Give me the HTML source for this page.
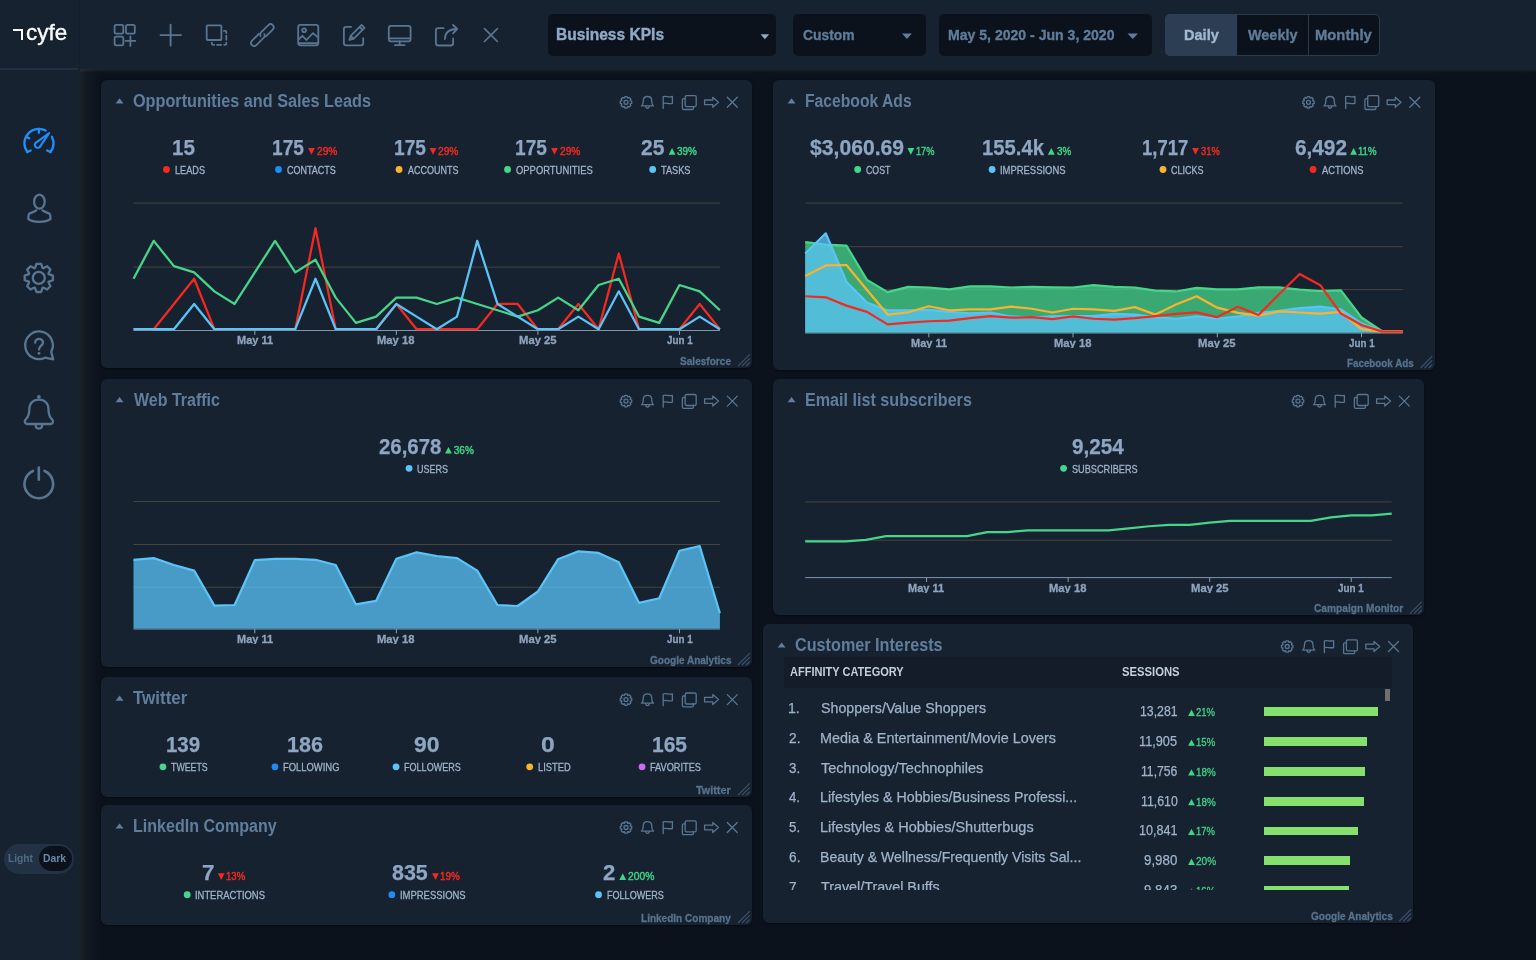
<!DOCTYPE html><html lang="en"><head><meta charset="utf-8"><title>Cyfe - Business KPIs</title><style>
html,body{margin:0;padding:0}
body{width:1536px;height:960px;overflow:hidden;background:#0b121b;position:relative;font-family:"Liberation Sans",sans-serif}
div,span,svg{position:absolute}
div{box-sizing:border-box}
.t{white-space:pre;transform-origin:0 50%;display:block}
.c{overflow:hidden;left:0;top:0;width:1536px}
svg{left:0;top:0}

</style></head><body>
<div style="left:79.00px;top:0.00px;width:22.00px;height:960.00px;background:linear-gradient(to right,rgba(255,255,255,.065),rgba(255,255,255,.035) 30%,rgba(255,255,255,.014) 60%,rgba(255,255,255,0));"></div>
<div style="left:80.00px;top:69.00px;width:1456.00px;height:4.00px;background:linear-gradient(to bottom,rgba(255,250,245,.075),rgba(255,250,245,.03) 50%,rgba(255,255,255,0));"></div>
<div style="left:80.00px;top:0.00px;width:1456.00px;height:69.30px;background:#172231;"></div>
<div style="left:0.00px;top:0.00px;width:79.00px;height:960.00px;background:#172231;"></div>
<div style="left:79.00px;top:0.00px;width:1.00px;height:69.30px;background:#151e2b;"></div>
<div style="left:0.00px;top:68.00px;width:78.00px;height:1.60px;background:#222f41;"></div>
<div style="left:12.80px;top:29.00px;width:9.90px;height:11.00px;background:transparent;border-top:2.2px solid #fff;border-right:2.2px solid #fff;box-sizing:border-box;"></div>
<div style="left:548.30px;top:14.00px;width:228.20px;height:42.00px;background:#0b121b;border-radius:5px;"></div>
<div style="left:792.60px;top:14.00px;width:133.30px;height:42.00px;background:#0b121b;border-radius:5px;"></div>
<div style="left:938.90px;top:14.00px;width:213.10px;height:42.00px;background:#0b121b;border-radius:5px;"></div>
<div style="left:1165.00px;top:13.80px;width:214.50px;height:42.50px;background:#0b121b;border-radius:5px;box-sizing:border-box;border:1px solid #2a3b50;"></div>
<div style="left:1165.00px;top:13.80px;width:72.20px;height:42.50px;background:#2c3e54;border-radius:5px 0 0 5px;"></div>
<div style="left:1308.00px;top:14.50px;width:1.00px;height:41.00px;background:#2a3b50;"></div>
<div style="left:4.40px;top:843.80px;width:70.10px;height:30.00px;background:#223144;border-radius:15px;"></div>
<div style="left:38.70px;top:845.90px;width:33.00px;height:25.40px;background:#0b121b;border-radius:12.7px;"></div>
<div style="left:101.00px;top:80.00px;width:651.00px;height:287.70px;background:#172231;border-radius:6px;box-shadow:0 1px 2px rgba(0,0,0,.4);"></div>
<div style="left:101.00px;top:378.80px;width:651.00px;height:287.80px;background:#172231;border-radius:6px;box-shadow:0 1px 2px rgba(0,0,0,.4);"></div>
<div style="left:101.00px;top:677.30px;width:651.00px;height:119.40px;background:#172231;border-radius:6px;box-shadow:0 1px 2px rgba(0,0,0,.4);"></div>
<div style="left:101.00px;top:805.20px;width:651.00px;height:119.40px;background:#172231;border-radius:6px;box-shadow:0 1px 2px rgba(0,0,0,.4);"></div>
<div style="left:773.00px;top:80.00px;width:661.50px;height:289.60px;background:#172231;border-radius:6px;box-shadow:0 1px 2px rgba(0,0,0,.4);"></div>
<div style="left:773.00px;top:378.80px;width:651.00px;height:236.40px;background:#172231;border-radius:6px;box-shadow:0 1px 2px rgba(0,0,0,.4);"></div>
<div style="left:763.10px;top:624.20px;width:650.10px;height:298.70px;background:#172231;border-radius:6px;box-shadow:0 1px 2px rgba(0,0,0,.4);"></div>
<div style="left:784.40px;top:657.40px;width:607.50px;height:30.60px;background:#141c2a;"></div>
<div style="left:1385.20px;top:688.80px;width:5.00px;height:12.20px;background:#6f6f6f;"></div>
<div style="left:1263.70px;top:707.40px;width:114.60px;height:8.80px;background:#86e06d;"></div>
<div style="left:1263.70px;top:737.18px;width:102.90px;height:8.80px;background:#86e06d;"></div>
<div style="left:1263.70px;top:766.96px;width:101.60px;height:8.80px;background:#86e06d;"></div>
<div style="left:1263.70px;top:796.74px;width:100.40px;height:8.80px;background:#86e06d;"></div>
<div style="left:1263.70px;top:826.52px;width:94.20px;height:8.80px;background:#86e06d;"></div>
<div style="left:1263.70px;top:856.30px;width:86.70px;height:8.80px;background:#86e06d;"></div>
<div style="left:1263.70px;top:886.08px;width:85.60px;height:3.52px;background:#86e06d;"></div>
<svg width="1536" height="960" viewBox="0 0 1536 960">
<polygon points="760.60,34.30 769.20,34.30 764.90,39.30" fill="#8fa9c6"/>
<polygon points="902.00,33.50 911.90,33.50 906.95,38.90" fill="#5f7d9b"/>
<polygon points="1127.50,33.50 1138.00,33.50 1132.75,38.90" fill="#5f7d9b"/>
<polygon points="115.60,103.40 123.50,103.40 119.55,98.30" fill="#607e9b"/>
<line x1="738.00" y1="366.10" x2="749.80" y2="354.30" stroke="#3b5068" stroke-width="1.2"/>
<line x1="742.00" y1="366.10" x2="749.80" y2="358.30" stroke="#3b5068" stroke-width="1.2"/>
<line x1="746.20" y1="366.10" x2="749.80" y2="362.50" stroke="#3b5068" stroke-width="1.2"/>
<path d="M624.36,98.11 L624.87,96.61 L627.13,96.61 L627.64,98.11 L627.80,98.18 L629.22,97.48 L630.82,99.08 L630.12,100.50 L630.19,100.66 L631.69,101.17 L631.69,103.43 L630.19,103.94 L630.12,104.10 L630.82,105.52 L629.22,107.12 L627.80,106.42 L627.64,106.49 L627.13,107.99 L624.87,107.99 L624.36,106.49 L624.20,106.42 L622.78,107.12 L621.18,105.52 L621.88,104.10 L621.81,103.94 L620.31,103.43 L620.31,101.17 L621.81,100.66 L621.88,100.50 L621.18,99.08 L622.78,97.48 L624.20,98.18Z" stroke="#587691" stroke-width="1.3" fill="none" stroke-linejoin="round" stroke-linecap="round"/>
<circle cx="626.00" cy="102.30" r="2.0" stroke="#587691" stroke-width="1.3" fill="none" stroke-linejoin="round" stroke-linecap="round"/>
<path d="M641.50,105.90 C643.90,103.90 643.10,101.30 643.30,100.10 C643.50,97.70 645.50,96.50 647.50,96.50 C649.50,96.50 651.50,97.70 651.70,100.10 C651.90,101.30 651.10,103.90 653.50,105.90 Z" stroke="#587691" stroke-width="1.3" fill="none" stroke-linejoin="round" stroke-linecap="round"/>
<path d="M645.70,106.30 C646.00,108.90 649.00,108.90 649.30,106.30" stroke="#587691" stroke-width="1.3" fill="none" stroke-linejoin="round" stroke-linecap="round"/>
<path d="M663.20,108.40 L663.20,96.70 C665.80,95.70 668.80,97.50 672.40,96.50 L672.40,103.30 C668.80,104.30 665.80,102.30 663.20,103.50" stroke="#587691" stroke-width="1.3" fill="none" stroke-linejoin="round" stroke-linecap="round"/>
<rect x="685.20" y="95.70" width="11.0" height="11.0" rx="1.4" stroke="#587691" stroke-width="1.3" fill="none" stroke-linejoin="round" stroke-linecap="round"/>
<path d="M685.20,98.70 L683.60,98.70 Q682.40,98.70 682.40,99.90 L682.40,108.30 Q682.40,109.50 683.60,109.50 L692.20,109.50 Q693.40,109.50 693.40,108.30 L693.40,106.70" stroke="#587691" stroke-width="1.3" fill="none" stroke-linejoin="round" stroke-linecap="round"/>
<path d="M704.60,100.00 L712.80,100.00 L712.80,97.30 L718.50,102.30 L712.80,107.30 L712.80,104.60 L704.60,104.60 Z" stroke="#587691" stroke-width="1.3" fill="none" stroke-linejoin="round" stroke-linecap="round"/>
<path d="M727.30,97.30 L737.30,107.30 M737.30,97.30 L727.30,107.30" stroke="#587691" stroke-width="1.3" fill="none" stroke-linejoin="round" stroke-linecap="round"/>
<polygon points="115.60,402.20 123.50,402.20 119.55,397.10" fill="#607e9b"/>
<line x1="738.00" y1="665.00" x2="749.80" y2="653.20" stroke="#3b5068" stroke-width="1.2"/>
<line x1="742.00" y1="665.00" x2="749.80" y2="657.20" stroke="#3b5068" stroke-width="1.2"/>
<line x1="746.20" y1="665.00" x2="749.80" y2="661.40" stroke="#3b5068" stroke-width="1.2"/>
<path d="M624.36,396.91 L624.87,395.41 L627.13,395.41 L627.64,396.91 L627.80,396.98 L629.22,396.28 L630.82,397.88 L630.12,399.30 L630.19,399.46 L631.69,399.97 L631.69,402.23 L630.19,402.74 L630.12,402.90 L630.82,404.32 L629.22,405.92 L627.80,405.22 L627.64,405.29 L627.13,406.79 L624.87,406.79 L624.36,405.29 L624.20,405.22 L622.78,405.92 L621.18,404.32 L621.88,402.90 L621.81,402.74 L620.31,402.23 L620.31,399.97 L621.81,399.46 L621.88,399.30 L621.18,397.88 L622.78,396.28 L624.20,396.98Z" stroke="#587691" stroke-width="1.3" fill="none" stroke-linejoin="round" stroke-linecap="round"/>
<circle cx="626.00" cy="401.10" r="2.0" stroke="#587691" stroke-width="1.3" fill="none" stroke-linejoin="round" stroke-linecap="round"/>
<path d="M641.50,404.70 C643.90,402.70 643.10,400.10 643.30,398.90 C643.50,396.50 645.50,395.30 647.50,395.30 C649.50,395.30 651.50,396.50 651.70,398.90 C651.90,400.10 651.10,402.70 653.50,404.70 Z" stroke="#587691" stroke-width="1.3" fill="none" stroke-linejoin="round" stroke-linecap="round"/>
<path d="M645.70,405.10 C646.00,407.70 649.00,407.70 649.30,405.10" stroke="#587691" stroke-width="1.3" fill="none" stroke-linejoin="round" stroke-linecap="round"/>
<path d="M663.20,407.20 L663.20,395.50 C665.80,394.50 668.80,396.30 672.40,395.30 L672.40,402.10 C668.80,403.10 665.80,401.10 663.20,402.30" stroke="#587691" stroke-width="1.3" fill="none" stroke-linejoin="round" stroke-linecap="round"/>
<rect x="685.20" y="394.50" width="11.0" height="11.0" rx="1.4" stroke="#587691" stroke-width="1.3" fill="none" stroke-linejoin="round" stroke-linecap="round"/>
<path d="M685.20,397.50 L683.60,397.50 Q682.40,397.50 682.40,398.70 L682.40,407.10 Q682.40,408.30 683.60,408.30 L692.20,408.30 Q693.40,408.30 693.40,407.10 L693.40,405.50" stroke="#587691" stroke-width="1.3" fill="none" stroke-linejoin="round" stroke-linecap="round"/>
<path d="M704.60,398.80 L712.80,398.80 L712.80,396.10 L718.50,401.10 L712.80,406.10 L712.80,403.40 L704.60,403.40 Z" stroke="#587691" stroke-width="1.3" fill="none" stroke-linejoin="round" stroke-linecap="round"/>
<path d="M727.30,396.10 L737.30,406.10 M737.30,396.10 L727.30,406.10" stroke="#587691" stroke-width="1.3" fill="none" stroke-linejoin="round" stroke-linecap="round"/>
<polygon points="115.60,700.70 123.50,700.70 119.55,695.60" fill="#607e9b"/>
<line x1="738.00" y1="795.10" x2="749.80" y2="783.30" stroke="#3b5068" stroke-width="1.2"/>
<line x1="742.00" y1="795.10" x2="749.80" y2="787.30" stroke="#3b5068" stroke-width="1.2"/>
<line x1="746.20" y1="795.10" x2="749.80" y2="791.50" stroke="#3b5068" stroke-width="1.2"/>
<path d="M624.36,695.41 L624.87,693.91 L627.13,693.91 L627.64,695.41 L627.80,695.48 L629.22,694.78 L630.82,696.38 L630.12,697.80 L630.19,697.96 L631.69,698.47 L631.69,700.73 L630.19,701.24 L630.12,701.40 L630.82,702.82 L629.22,704.42 L627.80,703.72 L627.64,703.79 L627.13,705.29 L624.87,705.29 L624.36,703.79 L624.20,703.72 L622.78,704.42 L621.18,702.82 L621.88,701.40 L621.81,701.24 L620.31,700.73 L620.31,698.47 L621.81,697.96 L621.88,697.80 L621.18,696.38 L622.78,694.78 L624.20,695.48Z" stroke="#587691" stroke-width="1.3" fill="none" stroke-linejoin="round" stroke-linecap="round"/>
<circle cx="626.00" cy="699.60" r="2.0" stroke="#587691" stroke-width="1.3" fill="none" stroke-linejoin="round" stroke-linecap="round"/>
<path d="M641.50,703.20 C643.90,701.20 643.10,698.60 643.30,697.40 C643.50,695.00 645.50,693.80 647.50,693.80 C649.50,693.80 651.50,695.00 651.70,697.40 C651.90,698.60 651.10,701.20 653.50,703.20 Z" stroke="#587691" stroke-width="1.3" fill="none" stroke-linejoin="round" stroke-linecap="round"/>
<path d="M645.70,703.60 C646.00,706.20 649.00,706.20 649.30,703.60" stroke="#587691" stroke-width="1.3" fill="none" stroke-linejoin="round" stroke-linecap="round"/>
<path d="M663.20,705.70 L663.20,694.00 C665.80,693.00 668.80,694.80 672.40,693.80 L672.40,700.60 C668.80,701.60 665.80,699.60 663.20,700.80" stroke="#587691" stroke-width="1.3" fill="none" stroke-linejoin="round" stroke-linecap="round"/>
<rect x="685.20" y="693.00" width="11.0" height="11.0" rx="1.4" stroke="#587691" stroke-width="1.3" fill="none" stroke-linejoin="round" stroke-linecap="round"/>
<path d="M685.20,696.00 L683.60,696.00 Q682.40,696.00 682.40,697.20 L682.40,705.60 Q682.40,706.80 683.60,706.80 L692.20,706.80 Q693.40,706.80 693.40,705.60 L693.40,704.00" stroke="#587691" stroke-width="1.3" fill="none" stroke-linejoin="round" stroke-linecap="round"/>
<path d="M704.60,697.30 L712.80,697.30 L712.80,694.60 L718.50,699.60 L712.80,704.60 L712.80,701.90 L704.60,701.90 Z" stroke="#587691" stroke-width="1.3" fill="none" stroke-linejoin="round" stroke-linecap="round"/>
<path d="M727.30,694.60 L737.30,704.60 M737.30,694.60 L727.30,704.60" stroke="#587691" stroke-width="1.3" fill="none" stroke-linejoin="round" stroke-linecap="round"/>
<polygon points="115.60,828.60 123.50,828.60 119.55,823.50" fill="#607e9b"/>
<line x1="738.00" y1="923.00" x2="749.80" y2="911.20" stroke="#3b5068" stroke-width="1.2"/>
<line x1="742.00" y1="923.00" x2="749.80" y2="915.20" stroke="#3b5068" stroke-width="1.2"/>
<line x1="746.20" y1="923.00" x2="749.80" y2="919.40" stroke="#3b5068" stroke-width="1.2"/>
<path d="M624.36,823.31 L624.87,821.81 L627.13,821.81 L627.64,823.31 L627.80,823.38 L629.22,822.68 L630.82,824.28 L630.12,825.70 L630.19,825.86 L631.69,826.37 L631.69,828.63 L630.19,829.14 L630.12,829.30 L630.82,830.72 L629.22,832.32 L627.80,831.62 L627.64,831.69 L627.13,833.19 L624.87,833.19 L624.36,831.69 L624.20,831.62 L622.78,832.32 L621.18,830.72 L621.88,829.30 L621.81,829.14 L620.31,828.63 L620.31,826.37 L621.81,825.86 L621.88,825.70 L621.18,824.28 L622.78,822.68 L624.20,823.38Z" stroke="#587691" stroke-width="1.3" fill="none" stroke-linejoin="round" stroke-linecap="round"/>
<circle cx="626.00" cy="827.50" r="2.0" stroke="#587691" stroke-width="1.3" fill="none" stroke-linejoin="round" stroke-linecap="round"/>
<path d="M641.50,831.10 C643.90,829.10 643.10,826.50 643.30,825.30 C643.50,822.90 645.50,821.70 647.50,821.70 C649.50,821.70 651.50,822.90 651.70,825.30 C651.90,826.50 651.10,829.10 653.50,831.10 Z" stroke="#587691" stroke-width="1.3" fill="none" stroke-linejoin="round" stroke-linecap="round"/>
<path d="M645.70,831.50 C646.00,834.10 649.00,834.10 649.30,831.50" stroke="#587691" stroke-width="1.3" fill="none" stroke-linejoin="round" stroke-linecap="round"/>
<path d="M663.20,833.60 L663.20,821.90 C665.80,820.90 668.80,822.70 672.40,821.70 L672.40,828.50 C668.80,829.50 665.80,827.50 663.20,828.70" stroke="#587691" stroke-width="1.3" fill="none" stroke-linejoin="round" stroke-linecap="round"/>
<rect x="685.20" y="820.90" width="11.0" height="11.0" rx="1.4" stroke="#587691" stroke-width="1.3" fill="none" stroke-linejoin="round" stroke-linecap="round"/>
<path d="M685.20,823.90 L683.60,823.90 Q682.40,823.90 682.40,825.10 L682.40,833.50 Q682.40,834.70 683.60,834.70 L692.20,834.70 Q693.40,834.70 693.40,833.50 L693.40,831.90" stroke="#587691" stroke-width="1.3" fill="none" stroke-linejoin="round" stroke-linecap="round"/>
<path d="M704.60,825.20 L712.80,825.20 L712.80,822.50 L718.50,827.50 L712.80,832.50 L712.80,829.80 L704.60,829.80 Z" stroke="#587691" stroke-width="1.3" fill="none" stroke-linejoin="round" stroke-linecap="round"/>
<path d="M727.30,822.50 L737.30,832.50 M737.30,822.50 L727.30,832.50" stroke="#587691" stroke-width="1.3" fill="none" stroke-linejoin="round" stroke-linecap="round"/>
<polygon points="787.60,103.40 795.50,103.40 791.55,98.30" fill="#607e9b"/>
<line x1="1420.50" y1="368.00" x2="1432.30" y2="356.20" stroke="#3b5068" stroke-width="1.2"/>
<line x1="1424.50" y1="368.00" x2="1432.30" y2="360.20" stroke="#3b5068" stroke-width="1.2"/>
<line x1="1428.70" y1="368.00" x2="1432.30" y2="364.40" stroke="#3b5068" stroke-width="1.2"/>
<path d="M1306.86,98.11 L1307.37,96.61 L1309.63,96.61 L1310.14,98.11 L1310.30,98.18 L1311.72,97.48 L1313.32,99.08 L1312.62,100.50 L1312.69,100.66 L1314.19,101.17 L1314.19,103.43 L1312.69,103.94 L1312.62,104.10 L1313.32,105.52 L1311.72,107.12 L1310.30,106.42 L1310.14,106.49 L1309.63,107.99 L1307.37,107.99 L1306.86,106.49 L1306.70,106.42 L1305.28,107.12 L1303.68,105.52 L1304.38,104.10 L1304.31,103.94 L1302.81,103.43 L1302.81,101.17 L1304.31,100.66 L1304.38,100.50 L1303.68,99.08 L1305.28,97.48 L1306.70,98.18Z" stroke="#587691" stroke-width="1.3" fill="none" stroke-linejoin="round" stroke-linecap="round"/>
<circle cx="1308.50" cy="102.30" r="2.0" stroke="#587691" stroke-width="1.3" fill="none" stroke-linejoin="round" stroke-linecap="round"/>
<path d="M1324.00,105.90 C1326.40,103.90 1325.60,101.30 1325.80,100.10 C1326.00,97.70 1328.00,96.50 1330.00,96.50 C1332.00,96.50 1334.00,97.70 1334.20,100.10 C1334.40,101.30 1333.60,103.90 1336.00,105.90 Z" stroke="#587691" stroke-width="1.3" fill="none" stroke-linejoin="round" stroke-linecap="round"/>
<path d="M1328.20,106.30 C1328.50,108.90 1331.50,108.90 1331.80,106.30" stroke="#587691" stroke-width="1.3" fill="none" stroke-linejoin="round" stroke-linecap="round"/>
<path d="M1345.70,108.40 L1345.70,96.70 C1348.30,95.70 1351.30,97.50 1354.90,96.50 L1354.90,103.30 C1351.30,104.30 1348.30,102.30 1345.70,103.50" stroke="#587691" stroke-width="1.3" fill="none" stroke-linejoin="round" stroke-linecap="round"/>
<rect x="1367.70" y="95.70" width="11.0" height="11.0" rx="1.4" stroke="#587691" stroke-width="1.3" fill="none" stroke-linejoin="round" stroke-linecap="round"/>
<path d="M1367.70,98.70 L1366.10,98.70 Q1364.90,98.70 1364.90,99.90 L1364.90,108.30 Q1364.90,109.50 1366.10,109.50 L1374.70,109.50 Q1375.90,109.50 1375.90,108.30 L1375.90,106.70" stroke="#587691" stroke-width="1.3" fill="none" stroke-linejoin="round" stroke-linecap="round"/>
<path d="M1387.10,100.00 L1395.30,100.00 L1395.30,97.30 L1401.00,102.30 L1395.30,107.30 L1395.30,104.60 L1387.10,104.60 Z" stroke="#587691" stroke-width="1.3" fill="none" stroke-linejoin="round" stroke-linecap="round"/>
<path d="M1409.80,97.30 L1419.80,107.30 M1419.80,97.30 L1409.80,107.30" stroke="#587691" stroke-width="1.3" fill="none" stroke-linejoin="round" stroke-linecap="round"/>
<polygon points="787.60,402.20 795.50,402.20 791.55,397.10" fill="#607e9b"/>
<line x1="1410.00" y1="613.60" x2="1421.80" y2="601.80" stroke="#3b5068" stroke-width="1.2"/>
<line x1="1414.00" y1="613.60" x2="1421.80" y2="605.80" stroke="#3b5068" stroke-width="1.2"/>
<line x1="1418.20" y1="613.60" x2="1421.80" y2="610.00" stroke="#3b5068" stroke-width="1.2"/>
<path d="M1296.36,396.91 L1296.87,395.41 L1299.13,395.41 L1299.64,396.91 L1299.80,396.98 L1301.22,396.28 L1302.82,397.88 L1302.12,399.30 L1302.19,399.46 L1303.69,399.97 L1303.69,402.23 L1302.19,402.74 L1302.12,402.90 L1302.82,404.32 L1301.22,405.92 L1299.80,405.22 L1299.64,405.29 L1299.13,406.79 L1296.87,406.79 L1296.36,405.29 L1296.20,405.22 L1294.78,405.92 L1293.18,404.32 L1293.88,402.90 L1293.81,402.74 L1292.31,402.23 L1292.31,399.97 L1293.81,399.46 L1293.88,399.30 L1293.18,397.88 L1294.78,396.28 L1296.20,396.98Z" stroke="#587691" stroke-width="1.3" fill="none" stroke-linejoin="round" stroke-linecap="round"/>
<circle cx="1298.00" cy="401.10" r="2.0" stroke="#587691" stroke-width="1.3" fill="none" stroke-linejoin="round" stroke-linecap="round"/>
<path d="M1313.50,404.70 C1315.90,402.70 1315.10,400.10 1315.30,398.90 C1315.50,396.50 1317.50,395.30 1319.50,395.30 C1321.50,395.30 1323.50,396.50 1323.70,398.90 C1323.90,400.10 1323.10,402.70 1325.50,404.70 Z" stroke="#587691" stroke-width="1.3" fill="none" stroke-linejoin="round" stroke-linecap="round"/>
<path d="M1317.70,405.10 C1318.00,407.70 1321.00,407.70 1321.30,405.10" stroke="#587691" stroke-width="1.3" fill="none" stroke-linejoin="round" stroke-linecap="round"/>
<path d="M1335.20,407.20 L1335.20,395.50 C1337.80,394.50 1340.80,396.30 1344.40,395.30 L1344.40,402.10 C1340.80,403.10 1337.80,401.10 1335.20,402.30" stroke="#587691" stroke-width="1.3" fill="none" stroke-linejoin="round" stroke-linecap="round"/>
<rect x="1357.20" y="394.50" width="11.0" height="11.0" rx="1.4" stroke="#587691" stroke-width="1.3" fill="none" stroke-linejoin="round" stroke-linecap="round"/>
<path d="M1357.20,397.50 L1355.60,397.50 Q1354.40,397.50 1354.40,398.70 L1354.40,407.10 Q1354.40,408.30 1355.60,408.30 L1364.20,408.30 Q1365.40,408.30 1365.40,407.10 L1365.40,405.50" stroke="#587691" stroke-width="1.3" fill="none" stroke-linejoin="round" stroke-linecap="round"/>
<path d="M1376.60,398.80 L1384.80,398.80 L1384.80,396.10 L1390.50,401.10 L1384.80,406.10 L1384.80,403.40 L1376.60,403.40 Z" stroke="#587691" stroke-width="1.3" fill="none" stroke-linejoin="round" stroke-linecap="round"/>
<path d="M1399.30,396.10 L1409.30,406.10 M1409.30,396.10 L1399.30,406.10" stroke="#587691" stroke-width="1.3" fill="none" stroke-linejoin="round" stroke-linecap="round"/>
<polygon points="777.70,647.60 785.60,647.60 781.65,642.50" fill="#607e9b"/>
<line x1="1399.20" y1="921.30" x2="1411.00" y2="909.50" stroke="#3b5068" stroke-width="1.2"/>
<line x1="1403.20" y1="921.30" x2="1411.00" y2="913.50" stroke="#3b5068" stroke-width="1.2"/>
<line x1="1407.40" y1="921.30" x2="1411.00" y2="917.70" stroke="#3b5068" stroke-width="1.2"/>
<path d="M1285.56,642.31 L1286.07,640.81 L1288.33,640.81 L1288.84,642.31 L1289.00,642.38 L1290.42,641.68 L1292.02,643.28 L1291.32,644.70 L1291.39,644.86 L1292.89,645.37 L1292.89,647.63 L1291.39,648.14 L1291.32,648.30 L1292.02,649.72 L1290.42,651.32 L1289.00,650.62 L1288.84,650.69 L1288.33,652.19 L1286.07,652.19 L1285.56,650.69 L1285.40,650.62 L1283.98,651.32 L1282.38,649.72 L1283.08,648.30 L1283.01,648.14 L1281.51,647.63 L1281.51,645.37 L1283.01,644.86 L1283.08,644.70 L1282.38,643.28 L1283.98,641.68 L1285.40,642.38Z" stroke="#587691" stroke-width="1.3" fill="none" stroke-linejoin="round" stroke-linecap="round"/>
<circle cx="1287.20" cy="646.50" r="2.0" stroke="#587691" stroke-width="1.3" fill="none" stroke-linejoin="round" stroke-linecap="round"/>
<path d="M1302.70,650.10 C1305.10,648.10 1304.30,645.50 1304.50,644.30 C1304.70,641.90 1306.70,640.70 1308.70,640.70 C1310.70,640.70 1312.70,641.90 1312.90,644.30 C1313.10,645.50 1312.30,648.10 1314.70,650.10 Z" stroke="#587691" stroke-width="1.3" fill="none" stroke-linejoin="round" stroke-linecap="round"/>
<path d="M1306.90,650.50 C1307.20,653.10 1310.20,653.10 1310.50,650.50" stroke="#587691" stroke-width="1.3" fill="none" stroke-linejoin="round" stroke-linecap="round"/>
<path d="M1324.40,652.60 L1324.40,640.90 C1327.00,639.90 1330.00,641.70 1333.60,640.70 L1333.60,647.50 C1330.00,648.50 1327.00,646.50 1324.40,647.70" stroke="#587691" stroke-width="1.3" fill="none" stroke-linejoin="round" stroke-linecap="round"/>
<rect x="1346.40" y="639.90" width="11.0" height="11.0" rx="1.4" stroke="#587691" stroke-width="1.3" fill="none" stroke-linejoin="round" stroke-linecap="round"/>
<path d="M1346.40,642.90 L1344.80,642.90 Q1343.60,642.90 1343.60,644.10 L1343.60,652.50 Q1343.60,653.70 1344.80,653.70 L1353.40,653.70 Q1354.60,653.70 1354.60,652.50 L1354.60,650.90" stroke="#587691" stroke-width="1.3" fill="none" stroke-linejoin="round" stroke-linecap="round"/>
<path d="M1365.80,644.20 L1374.00,644.20 L1374.00,641.50 L1379.70,646.50 L1374.00,651.50 L1374.00,648.80 L1365.80,648.80 Z" stroke="#587691" stroke-width="1.3" fill="none" stroke-linejoin="round" stroke-linecap="round"/>
<path d="M1388.50,641.50 L1398.50,651.50 M1398.50,641.50 L1388.50,651.50" stroke="#587691" stroke-width="1.3" fill="none" stroke-linejoin="round" stroke-linecap="round"/>
<circle cx="166.47" cy="169.50" r="3.40" fill="#f5291f"/>
<polygon points="308.10,148.10 314.90,148.10 311.50,154.70" fill="#f5291f"/>
<circle cx="278.50" cy="169.50" r="3.40" fill="#1e8cf5"/>
<polygon points="429.60,148.10 436.40,148.10 433.00,154.70" fill="#f5291f"/>
<circle cx="399.05" cy="169.50" r="3.40" fill="#f9b32c"/>
<polygon points="551.10,148.10 557.90,148.10 554.50,154.70" fill="#f5291f"/>
<circle cx="507.55" cy="169.50" r="3.40" fill="#46d68a"/>
<polygon points="668.67,154.70 675.47,154.70 672.07,148.10" fill="#3fd585"/>
<circle cx="652.67" cy="169.50" r="3.40" fill="#5ac4f8"/>
<polygon points="445.05,453.50 451.85,453.50 448.45,446.90" fill="#3fd585"/>
<circle cx="409.05" cy="468.30" r="3.40" fill="#5ac4f8"/>
<circle cx="162.95" cy="766.80" r="3.40" fill="#46d68a"/>
<circle cx="274.95" cy="766.80" r="3.40" fill="#1e8cf5"/>
<circle cx="396.05" cy="766.80" r="3.40" fill="#5ac4f8"/>
<circle cx="529.70" cy="766.80" r="3.40" fill="#f9b32c"/>
<circle cx="642.05" cy="766.80" r="3.40" fill="#cf6bf0"/>
<polygon points="217.80,873.30 224.60,873.30 221.20,879.90" fill="#f5291f"/>
<circle cx="187.20" cy="894.70" r="3.40" fill="#46d68a"/>
<polygon points="432.10,873.30 438.90,873.30 435.50,879.90" fill="#f5291f"/>
<circle cx="391.85" cy="894.70" r="3.40" fill="#1e8cf5"/>
<polygon points="619.35,879.90 626.15,879.90 622.75,873.30" fill="#3fd585"/>
<circle cx="598.55" cy="894.70" r="3.40" fill="#5ac4f8"/>
<polygon points="907.45,148.10 914.25,148.10 910.85,154.70" fill="#3fd585"/>
<circle cx="857.67" cy="169.50" r="3.40" fill="#46d68a"/>
<polygon points="1047.90,154.70 1054.70,154.70 1051.30,148.10" fill="#3fd585"/>
<circle cx="992.10" cy="169.50" r="3.40" fill="#5ac4f8"/>
<polygon points="1192.12,148.10 1198.92,148.10 1195.53,154.70" fill="#f5291f"/>
<circle cx="1162.98" cy="169.50" r="3.40" fill="#f9b32c"/>
<polygon points="1350.20,154.70 1357.00,154.70 1353.60,148.10" fill="#3fd585"/>
<circle cx="1313.05" cy="169.50" r="3.40" fill="#f5291f"/>
<circle cx="1063.60" cy="468.30" r="3.40" fill="#46d68a"/>
<line x1="133.5" y1="203.1" x2="719.9" y2="203.1" stroke="#47433f" stroke-width="1"/>
<line x1="133.5" y1="267.1" x2="719.9" y2="267.1" stroke="#47433f" stroke-width="1"/>
<line x1="133.50" y1="330.50" x2="719.90" y2="330.50" stroke="#8097b0" stroke-width="1"/>
<line x1="254.82" y1="330.50" x2="254.82" y2="334.80" stroke="#8ea3bb" stroke-width="1"/>
<line x1="396.37" y1="330.50" x2="396.37" y2="334.80" stroke="#8ea3bb" stroke-width="1"/>
<line x1="537.91" y1="330.50" x2="537.91" y2="334.80" stroke="#8ea3bb" stroke-width="1"/>
<line x1="679.46" y1="330.50" x2="679.46" y2="334.80" stroke="#8ea3bb" stroke-width="1"/>
<polyline points="133.50,329.20 153.72,329.20 173.94,303.96 194.16,278.72 214.38,329.20 234.60,329.20 254.82,329.20 275.04,329.20 295.27,329.20 315.49,228.24 335.71,329.20 355.93,329.20 376.15,329.20 396.37,303.96 416.59,329.20 436.81,329.20 457.03,329.20 477.25,329.20 497.47,303.96 517.69,303.96 537.91,329.20 558.13,329.20 578.36,303.96 598.58,329.20 618.80,253.48 639.02,329.20 659.24,329.20 679.46,329.20 699.68,303.96 719.90,329.20" fill="none" stroke="#f5291f" stroke-width="2.25" stroke-linejoin="round" stroke-linecap="butt"/>
<polyline points="133.50,278.72 153.72,240.86 173.94,266.10 194.16,272.41 214.38,291.34 234.60,303.96 254.82,272.41 275.04,240.86 295.27,272.41 315.49,259.79 335.71,297.65 355.93,322.89 376.15,316.58 396.37,297.65 416.59,297.65 436.81,303.96 457.03,297.65 477.25,303.96 497.47,310.27 517.69,316.58 537.91,310.27 558.13,297.65 578.36,310.27 598.58,285.03 618.80,278.72 639.02,316.58 659.24,322.89 679.46,285.03 699.68,291.34 719.90,310.27" fill="none" stroke="#46d68a" stroke-width="2.25" stroke-linejoin="round" stroke-linecap="butt"/>
<polyline points="133.50,329.20 153.72,329.20 173.94,329.20 194.16,303.96 214.38,329.20 234.60,329.20 254.82,329.20 275.04,329.20 295.27,329.20 315.49,278.72 335.71,329.20 355.93,329.20 376.15,329.20 396.37,303.96 416.59,316.58 436.81,329.20 457.03,316.58 477.25,240.86 497.47,303.96 517.69,316.58 537.91,329.20 558.13,329.20 578.36,316.58 598.58,329.20 618.80,291.34 639.02,329.20 659.24,329.20 679.46,329.20 699.68,316.58 719.90,329.20" fill="none" stroke="#5ac4f8" stroke-width="2.25" stroke-linejoin="round" stroke-linecap="butt"/>
<line x1="133.5" y1="501.5" x2="719.9" y2="501.5" stroke="#47433f" stroke-width="1"/>
<line x1="133.5" y1="544.5" x2="719.9" y2="544.5" stroke="#47433f" stroke-width="1"/>
<line x1="133.5" y1="587.3" x2="719.9" y2="587.3" stroke="#47433f" stroke-width="1"/>
<line x1="133.50" y1="629.00" x2="719.90" y2="629.00" stroke="#8097b0" stroke-width="1"/>
<line x1="254.82" y1="629.00" x2="254.82" y2="633.30" stroke="#8ea3bb" stroke-width="1"/>
<line x1="396.37" y1="629.00" x2="396.37" y2="633.30" stroke="#8ea3bb" stroke-width="1"/>
<line x1="537.91" y1="629.00" x2="537.91" y2="633.30" stroke="#8ea3bb" stroke-width="1"/>
<line x1="679.46" y1="629.00" x2="679.46" y2="633.30" stroke="#8ea3bb" stroke-width="1"/>
<polygon points="133.50,628.50 133.50,559.80 153.72,558.10 173.94,565.00 194.16,570.60 214.38,605.60 234.60,605.00 254.82,560.20 275.04,558.80 295.27,558.80 315.49,559.80 335.71,565.00 355.93,604.40 376.15,600.80 396.37,558.80 416.59,552.30 436.81,556.00 457.03,558.10 477.25,570.60 497.47,605.00 517.69,606.00 537.91,591.50 558.13,559.20 578.36,551.30 598.58,552.90 618.80,562.30 639.02,602.90 659.24,598.30 679.46,550.80 699.68,546.00 719.90,613.20 719.90,628.50" fill="#5ac4f8" fill-opacity="0.75"/>
<polyline points="133.50,559.80 153.72,558.10 173.94,565.00 194.16,570.60 214.38,605.60 234.60,605.00 254.82,560.20 275.04,558.80 295.27,558.80 315.49,559.80 335.71,565.00 355.93,604.40 376.15,600.80 396.37,558.80 416.59,552.30 436.81,556.00 457.03,558.10 477.25,570.60 497.47,605.00 517.69,606.00 537.91,591.50 558.13,559.20 578.36,551.30 598.58,552.90 618.80,562.30 639.02,602.90 659.24,598.30 679.46,550.80 699.68,546.00 719.90,613.20" fill="none" stroke="#5ac4f8" stroke-width="2.2" stroke-linejoin="round"/>
<line x1="805.2" y1="203.1" x2="1402.7" y2="203.1" stroke="#47433f" stroke-width="1"/>
<line x1="805.2" y1="246.7" x2="1402.7" y2="246.7" stroke="#47433f" stroke-width="1"/>
<line x1="805.2" y1="289.6" x2="1402.7" y2="289.6" stroke="#47433f" stroke-width="1"/>
<line x1="805.20" y1="333.00" x2="1402.70" y2="333.00" stroke="#8097b0" stroke-width="1"/>
<line x1="928.82" y1="333.00" x2="928.82" y2="337.30" stroke="#8ea3bb" stroke-width="1"/>
<line x1="1073.04" y1="333.00" x2="1073.04" y2="337.30" stroke="#8ea3bb" stroke-width="1"/>
<line x1="1217.27" y1="333.00" x2="1217.27" y2="337.30" stroke="#8ea3bb" stroke-width="1"/>
<line x1="1361.49" y1="333.00" x2="1361.49" y2="337.30" stroke="#8ea3bb" stroke-width="1"/>
<polygon points="805.20,332.50 805.20,242.08 825.80,244.58 846.41,245.62 867.01,280.00 887.61,292.08 908.22,286.88 928.82,287.50 949.42,289.38 970.03,286.46 990.63,286.46 1011.23,287.50 1031.84,286.88 1052.44,287.29 1073.04,287.50 1093.65,285.21 1114.25,286.88 1134.86,287.50 1155.46,290.62 1176.06,291.46 1196.67,287.92 1217.27,289.38 1237.87,289.38 1258.48,287.29 1279.08,287.29 1299.68,289.58 1320.29,291.04 1340.89,290.42 1361.49,317.50 1382.10,331.25 1402.70,331.67 1402.70,332.50" fill="#46d68a" fill-opacity="0.75"/>
<polyline points="805.20,242.08 825.80,244.58 846.41,245.62 867.01,280.00 887.61,292.08 908.22,286.88 928.82,287.50 949.42,289.38 970.03,286.46 990.63,286.46 1011.23,287.50 1031.84,286.88 1052.44,287.29 1073.04,287.50 1093.65,285.21 1114.25,286.88 1134.86,287.50 1155.46,290.62 1176.06,291.46 1196.67,287.92 1217.27,289.38 1237.87,289.38 1258.48,287.29 1279.08,287.29 1299.68,289.58 1320.29,291.04 1340.89,290.42 1361.49,317.50 1382.10,331.25 1402.70,331.67" fill="none" stroke="#46d68a" stroke-width="2.2" stroke-linejoin="round"/>
<polygon points="805.20,332.50 805.20,253.54 825.80,233.33 846.41,281.67 867.01,302.50 887.61,310.42 908.22,310.42 928.82,309.79 949.42,311.88 970.03,313.33 990.63,312.50 1011.23,316.46 1031.84,317.50 1052.44,316.46 1073.04,316.04 1093.65,316.04 1114.25,313.96 1134.86,314.58 1155.46,317.08 1176.06,318.75 1196.67,316.46 1217.27,318.75 1237.87,316.46 1258.48,312.92 1279.08,310.83 1299.68,308.12 1320.29,306.67 1340.89,309.38 1361.49,323.33 1382.10,331.25 1402.70,331.67 1402.70,332.50" fill="#5ac4f8" fill-opacity="0.75"/>
<polyline points="805.20,253.54 825.80,233.33 846.41,281.67 867.01,302.50 887.61,310.42 908.22,310.42 928.82,309.79 949.42,311.88 970.03,313.33 990.63,312.50 1011.23,316.46 1031.84,317.50 1052.44,316.46 1073.04,316.04 1093.65,316.04 1114.25,313.96 1134.86,314.58 1155.46,317.08 1176.06,318.75 1196.67,316.46 1217.27,318.75 1237.87,316.46 1258.48,312.92 1279.08,310.83 1299.68,308.12 1320.29,306.67 1340.89,309.38 1361.49,323.33 1382.10,331.25 1402.70,331.67" fill="none" stroke="#5ac4f8" stroke-width="2.2" stroke-linejoin="round"/>
<polyline points="805.20,276.04 825.80,265.42 846.41,265.00 867.01,290.00 887.61,314.58 908.22,312.29 928.82,306.25 949.42,310.42 970.03,309.38 990.63,309.38 1011.23,306.67 1031.84,308.75 1052.44,312.50 1073.04,308.75 1093.65,309.38 1114.25,310.83 1134.86,307.08 1155.46,314.58 1176.06,304.58 1196.67,296.25 1217.27,307.71 1237.87,312.92 1258.48,315.62 1279.08,311.46 1299.68,312.50 1320.29,313.54 1340.89,311.88 1361.49,329.17 1382.10,331.67 1402.70,331.67" fill="none" stroke="#f9b32c" stroke-width="2.25" stroke-linejoin="round" stroke-linecap="butt"/>
<polyline points="805.20,296.25 825.80,297.29 846.41,305.62 867.01,311.88 887.61,324.38 908.22,322.71 928.82,321.25 949.42,320.62 970.03,318.12 990.63,316.04 1011.23,317.71 1031.84,317.08 1052.44,319.17 1073.04,316.46 1093.65,318.75 1114.25,319.58 1134.86,318.12 1155.46,316.04 1176.06,313.96 1196.67,312.29 1217.27,317.08 1237.87,306.67 1258.48,315.00 1279.08,294.17 1299.68,273.96 1320.29,285.21 1340.89,313.54 1361.49,325.00 1382.10,331.67 1402.70,331.67" fill="none" stroke="#f5291f" stroke-width="2.25" stroke-linejoin="round" stroke-linecap="butt"/>
<line x1="805.2" y1="501.9" x2="1391.7" y2="501.9" stroke="#47433f" stroke-width="1"/>
<line x1="805.2" y1="540.2" x2="1391.7" y2="540.2" stroke="#47433f" stroke-width="1"/>
<polyline points="805.20,541.46 825.42,541.46 845.65,541.46 865.87,539.79 886.10,536.04 906.32,536.04 926.54,536.04 946.77,536.04 966.99,536.04 987.22,532.08 1007.44,532.08 1027.67,530.42 1047.89,530.42 1068.11,530.42 1088.34,530.42 1108.56,530.42 1128.79,528.33 1149.01,526.25 1169.23,524.79 1189.46,524.79 1209.68,522.71 1229.91,520.83 1250.13,520.83 1270.36,520.83 1290.58,520.83 1310.80,520.83 1331.03,517.29 1351.25,515.42 1371.48,515.42 1391.70,513.54" fill="none" stroke="#46d68a" stroke-width="2.25" stroke-linejoin="round" stroke-linecap="butt"/>
<line x1="805.20" y1="577.60" x2="1391.70" y2="577.60" stroke="#8097b0" stroke-width="1"/>
<line x1="926.54" y1="577.60" x2="926.54" y2="581.90" stroke="#8ea3bb" stroke-width="1"/>
<line x1="1068.11" y1="577.60" x2="1068.11" y2="581.90" stroke="#8ea3bb" stroke-width="1"/>
<line x1="1209.68" y1="577.60" x2="1209.68" y2="581.90" stroke="#8ea3bb" stroke-width="1"/>
<line x1="1351.25" y1="577.60" x2="1351.25" y2="581.90" stroke="#8ea3bb" stroke-width="1"/>
<polygon points="1188.10,716.00 1194.90,716.00 1191.50,709.60" fill="#3fd585"/>
<polygon points="1188.10,745.78 1194.90,745.78 1191.50,739.38" fill="#3fd585"/>
<polygon points="1188.10,775.56 1194.90,775.56 1191.50,769.16" fill="#3fd585"/>
<polygon points="1188.10,805.34 1194.90,805.34 1191.50,798.94" fill="#3fd585"/>
<polygon points="1188.10,835.12 1194.90,835.12 1191.50,828.72" fill="#3fd585"/>
<polygon points="1188.10,864.90 1194.90,864.90 1191.50,858.50" fill="#3fd585"/>
<clipPath id="cp6"><rect x="1180" y="0" width="40" height="889.6"/></clipPath><polygon clip-path="url(#cp6)" points="1188.1,894.68 1194.9,894.68 1191.5,888.28" fill="#3fd585"/>
<rect x="114.6" y="24.9" width="8.7" height="8.8" rx="1.6" stroke="#587691" stroke-width="1.8" fill="none" stroke-linejoin="round" stroke-linecap="round"/>
<rect x="126.0" y="24.9" width="8.8" height="8.8" rx="1.6" stroke="#587691" stroke-width="1.8" fill="none" stroke-linejoin="round" stroke-linecap="round"/>
<rect x="114.6" y="36.7" width="8.7" height="8.7" rx="1.6" stroke="#587691" stroke-width="1.8" fill="none" stroke-linejoin="round" stroke-linecap="round"/>
<path d="M125.6,40.9 L135.3,40.9 M130.4,36.3 L130.4,45.9" stroke="#587691" stroke-width="1.8" fill="none" stroke-linejoin="round" stroke-linecap="round"/>
<path d="M160.5,35.1 L181.0,35.1 M170.6,24.8 L170.6,45.5" stroke="#587691" stroke-width="1.9" fill="none" stroke-linecap="round"/>
<rect x="206.7" y="25.3" width="14.7" height="14.7" rx="0.8" stroke="#587691" stroke-width="1.8" fill="none" stroke-linejoin="round" stroke-linecap="round"/>
<path d="M224.0,30.9 L225.2,30.9 Q226.3,30.9 226.3,32.0 L226.3,33.0 M226.3,35.6 L226.3,39.8 M226.3,42.6 L226.3,43.7 Q226.3,44.8 225.2,44.8 L224.2,44.8 M221.2,44.8 L217.0,44.8 M214.2,44.8 L213.0,44.8 Q211.9,44.8 211.9,43.7 L211.9,42.6" stroke="#587691" stroke-width="1.8" fill="none" stroke-linejoin="round" stroke-linecap="round"/>
<g transform="translate(266.9,31.0) rotate(-45)"><path d="M-4.6,3.1 L5.2,3.1 A3.1,3.1 0 0 0 5.2,-3.1 L-5.2,-3.1 A3.1,3.1 0 0 0 -8.1,-1.0" stroke="#587691" stroke-width="1.8" fill="none" stroke-linejoin="round" stroke-linecap="round"/></g>
<g transform="translate(257.9,39.2) rotate(-45)"><path d="M4.6,-3.1 L-5.2,-3.1 A3.1,3.1 0 0 0 -5.2,3.1 L5.2,3.1 A3.1,3.1 0 0 0 8.1,1.0" stroke="#587691" stroke-width="1.8" fill="none" stroke-linejoin="round" stroke-linecap="round"/></g>
<rect x="298.2" y="24.9" width="20.1" height="20.4" rx="2.2" stroke="#587691" stroke-width="1.8" fill="none" stroke-linejoin="round" stroke-linecap="round"/>
<circle cx="304.1" cy="30.3" r="1.9" stroke="#587691" stroke-width="1.8" fill="none" stroke-linejoin="round" stroke-linecap="round"/>
<path d="M298.4,39.6 L302.4,35.8 L306.4,40.0 L313.0,33.1 L318.2,37.7" stroke="#587691" stroke-width="1.8" fill="none" stroke-linejoin="round" stroke-linecap="round"/>
<path d="M298.6,43.2 L318.0,43.2" stroke="#587691" stroke-width="1.8" fill="none" stroke-linejoin="round" stroke-linecap="round"/>
<path d="M351.2,26.8 L346.2,26.8 Q343.9,26.8 343.9,29.1 L343.9,43.0 Q343.9,45.3 346.2,45.3 L360.9,45.3 Q363.2,45.3 363.2,43.0 L363.2,38.2" stroke="#587691" stroke-width="1.8" fill="none" stroke-linejoin="round" stroke-linecap="round"/>
<path d="M349.4,39.9 L350.7,35.9 L361.6,24.9 L364.5,27.8 L353.5,38.8 Z M350.7,35.9 L353.5,38.8 M359.6,26.9 L362.5,29.8" stroke="#587691" stroke-width="1.8" fill="none" stroke-linejoin="round" stroke-linecap="round"/>
<rect x="388.8" y="25.8" width="21.8" height="15.5" rx="2.4" stroke="#587691" stroke-width="1.8" fill="none" stroke-linejoin="round" stroke-linecap="round"/>
<path d="M389.2,38.3 L410.2,38.3 M399.7,41.5 L399.7,44.8 M394.8,45.1 L404.6,45.1" stroke="#587691" stroke-width="1.8" fill="none" stroke-linejoin="round" stroke-linecap="round"/>
<path d="M443.6,28.1 L438.2,28.1 Q435.9,28.1 435.9,30.4 L435.9,43.2 Q435.9,45.5 438.2,45.5 L450.8,45.5 Q453.1,45.5 453.1,43.2 L453.1,38.4" stroke="#587691" stroke-width="1.8" fill="none" stroke-linejoin="round" stroke-linecap="round"/>
<path d="M444.9,39.0 C444.9,33.0 449.0,29.2 456.6,29.0 M453.0,24.8 L457.2,29.0 L453.0,33.3" stroke="#587691" stroke-width="1.8" fill="none" stroke-linejoin="round" stroke-linecap="round"/>
<path d="M484.5,28.6 L497.4,41.5 M497.4,28.6 L484.5,41.5" stroke="#587691" stroke-width="1.7" fill="none" stroke-linecap="round"/>
<path d="M27.32,152.03 A14.5,14.5 0 0 1 45.71,130.50" stroke="#1e8fff" stroke-width="2.3" fill="none" stroke-linejoin="round" stroke-linecap="round"/>
<path d="M51.82,136.72 A14.5,14.5 0 0 1 50.48,152.03" stroke="#1e8fff" stroke-width="2.3" fill="none" stroke-linejoin="round" stroke-linecap="round"/>
<path d="M38.90,128.80 L38.90,132.80" stroke="#1e8fff" stroke-width="2.3" fill="none" stroke-linejoin="round" stroke-linecap="round"/>
<path d="M25.98,136.72 L29.19,138.35" stroke="#1e8fff" stroke-width="2.3" fill="none" stroke-linejoin="round" stroke-linecap="round"/>
<path d="M27.32,152.03 L30.62,150.43" stroke="#1e8fff" stroke-width="2.3" fill="none" stroke-linejoin="round" stroke-linecap="round"/>
<path d="M50.48,152.03 L47.18,150.43" stroke="#1e8fff" stroke-width="2.3" fill="none" stroke-linejoin="round" stroke-linecap="round"/>
<path d="M49.2,133.0 L40.3,146.2 A2.9,2.9 0 1 1 36.4,142.3 Z" stroke="#1e8fff" stroke-width="2.1" fill="none" stroke-linejoin="round"/>
<ellipse cx="39.4" cy="201.7" rx="5.3" ry="7.0" stroke="#587691" stroke-width="2.3" fill="none" stroke-linejoin="round" stroke-linecap="round"/>
<path d="M36.2,210.4 C34.0,212.2 31.5,212.6 29.6,213.6 C28.2,214.4 28.3,217.0 28.4,219.2 C31.0,221.2 35.0,221.8 39.4,221.8 C43.8,221.8 47.8,221.2 50.4,219.2 C50.5,217.0 50.6,214.4 49.2,213.6 C47.3,212.6 44.8,212.2 42.6,210.4" stroke="#587691" stroke-width="2.3" fill="none" stroke-linejoin="round" stroke-linecap="round"/>
<path d="M35.05,267.98 L36.45,263.79 L41.15,263.79 L42.55,267.98 L43.16,268.24 L47.11,266.27 L50.43,269.59 L48.46,273.54 L48.72,274.15 L52.91,275.55 L52.91,280.25 L48.72,281.65 L48.46,282.26 L50.43,286.21 L47.11,289.53 L43.16,287.56 L42.55,287.82 L41.15,292.01 L36.45,292.01 L35.05,287.82 L34.44,287.56 L30.49,289.53 L27.17,286.21 L29.14,282.26 L28.88,281.65 L24.69,280.25 L24.69,275.55 L28.88,274.15 L29.14,273.54 L27.17,269.59 L30.49,266.27 L34.44,268.24Z" stroke="#587691" stroke-width="2.3" fill="none" stroke-linejoin="round" stroke-linecap="round"/>
<circle cx="38.8" cy="277.9" r="6.0" stroke="#587691" stroke-width="2.3" fill="none" stroke-linejoin="round" stroke-linecap="round"/>
<path d="M45.05,357.70 A13.8,13.8 0 1 1 51.18,351.78 L53.2,359.4 Z" stroke="#587691" stroke-width="2.3" fill="none" stroke-linejoin="round" stroke-linecap="round"/>
<path d="M35.2,342.6 C35.0,337.6 43.2,337.6 43.0,342.6 C42.9,345.6 39.0,345.8 39.0,349.6" stroke="#587691" stroke-width="2.3" fill="none" stroke-linejoin="round" stroke-linecap="round"/>
<circle cx="39.0" cy="353.3" r="1.4" fill="#587691"/>
<path d="M38.9,399.6 C33.0,399.6 29.3,403.6 29.3,409.4 C29.3,414.0 28.6,416.6 25.6,419.6 C24.0,421.4 24.8,424.0 27.2,424.0 L50.6,424.0 C53.0,424.0 53.8,421.4 52.2,419.6 C49.2,416.6 48.5,414.0 48.5,409.4 C48.5,403.6 44.8,399.6 38.9,399.6 Z" stroke="#587691" stroke-width="2.3" fill="none" stroke-linejoin="round" stroke-linecap="round"/>
<path d="M35.6,424.6 C35.6,430.0 42.2,430.0 42.2,424.6" stroke="#587691" stroke-width="2.3" fill="none" stroke-linejoin="round" stroke-linecap="round"/>
<circle cx="38.9" cy="396.8" r="1.9" fill="#587691"/>
<path d="M44.62,470.94 A14.3,14.3 0 1 1 32.98,470.94" stroke="#587691" stroke-width="2.6" fill="none" stroke-linecap="round"/>
<path d="M38.8,467.6 L38.8,479.8" stroke="#587691" stroke-width="2.6" fill="none" stroke-linecap="round"/>
</svg>
<span class="t" style="left:26.12px;top:20px;font-size:21.5px;line-height:26px;font-weight:400;color:#ffffff;transform:scaleX(1.0437);-webkit-text-stroke:0.35px #ffffff">cyfe</span>
<span class="t" style="left:556.48px;top:25px;font-size:17px;line-height:20px;font-weight:700;color:#8fa9c6;transform:scaleX(0.9150);-webkit-text-stroke:0.4px #8fa9c6">Business KPIs</span>
<span class="t" style="left:803.04px;top:26px;font-size:15px;line-height:18px;font-weight:700;color:#5f7d9b;transform:scaleX(0.9229);-webkit-text-stroke:0.35px #5f7d9b">Custom</span>
<span class="t" style="left:948.31px;top:26px;font-size:15px;line-height:18px;font-weight:700;color:#5f7d9b;transform:scaleX(0.9375);-webkit-text-stroke:0.35px #5f7d9b">May 5, 2020 - Jun 3, 2020</span>
<span class="t" style="left:1183.53px;top:26px;font-size:15px;line-height:18px;font-weight:700;color:#a3b8d0;transform:scaleX(0.9712);-webkit-text-stroke:0.35px #a3b8d0">Daily</span>
<span class="t" style="left:1247.75px;top:26px;font-size:15px;line-height:18px;font-weight:700;color:#5f7d9b;transform:scaleX(0.9610);-webkit-text-stroke:0.35px #5f7d9b">Weekly</span>
<span class="t" style="left:1315.26px;top:26px;font-size:15px;line-height:18px;font-weight:700;color:#5f7d9b;transform:scaleX(0.9867);-webkit-text-stroke:0.35px #5f7d9b">Monthly</span>
<span class="t" style="left:8.43px;top:851px;font-size:11.5px;line-height:14px;font-weight:700;color:#4f6c87;transform:scaleX(0.8881)">Light</span>
<span class="t" style="left:43.07px;top:851px;font-size:11.5px;line-height:14px;font-weight:700;color:#6888a6;transform:scaleX(0.9030)">Dark</span>
<span class="t" style="left:133.02px;top:90px;font-size:18px;line-height:22px;font-weight:700;color:#607e9b;transform:scaleX(0.9010)">Opportunities and Sales Leads</span>
<span class="t" style="left:680.07px;top:355px;font-size:11px;line-height:13px;font-weight:700;color:#56738d;transform:scaleX(0.9164);-webkit-text-stroke:0.3px #56738d">Salesforce</span>
<span class="t" style="left:133.70px;top:389px;font-size:18px;line-height:22px;font-weight:700;color:#607e9b;transform:scaleX(0.8883)">Web Traffic</span>
<span class="t" style="left:649.64px;top:654px;font-size:11px;line-height:13px;font-weight:700;color:#56738d;transform:scaleX(0.9107);-webkit-text-stroke:0.3px #56738d">Google Analytics</span>
<span class="t" style="left:133.46px;top:687px;font-size:18px;line-height:22px;font-weight:700;color:#607e9b;transform:scaleX(0.9432)">Twitter</span>
<span class="t" style="left:696.30px;top:784px;font-size:11px;line-height:13px;font-weight:700;color:#56738d;transform:scaleX(0.9829);-webkit-text-stroke:0.3px #56738d">Twitter</span>
<span class="t" style="left:132.58px;top:815px;font-size:18px;line-height:22px;font-weight:700;color:#607e9b;transform:scaleX(0.8920)">LinkedIn Company</span>
<span class="t" style="left:641.12px;top:912px;font-size:11px;line-height:13px;font-weight:700;color:#56738d;transform:scaleX(0.9118);-webkit-text-stroke:0.3px #56738d">LinkedIn Company</span>
<span class="t" style="left:804.61px;top:90px;font-size:18px;line-height:22px;font-weight:700;color:#607e9b;transform:scaleX(0.8714)">Facebook Ads</span>
<span class="t" style="left:1346.73px;top:357px;font-size:11px;line-height:13px;font-weight:700;color:#56738d;transform:scaleX(0.8922);-webkit-text-stroke:0.3px #56738d">Facebook Ads</span>
<span class="t" style="left:804.58px;top:389px;font-size:18px;line-height:22px;font-weight:700;color:#607e9b;transform:scaleX(0.8967)">Email list subscribers</span>
<span class="t" style="left:1313.54px;top:602px;font-size:11px;line-height:13px;font-weight:700;color:#56738d;transform:scaleX(0.9240);-webkit-text-stroke:0.3px #56738d">Campaign Monitor</span>
<span class="t" style="left:795.13px;top:634px;font-size:18px;line-height:22px;font-weight:700;color:#607e9b;transform:scaleX(0.8997)">Customer Interests</span>
<span class="t" style="left:1310.54px;top:910px;font-size:11px;line-height:13px;font-weight:700;color:#56738d;transform:scaleX(0.9141);-webkit-text-stroke:0.3px #56738d">Google Analytics</span>
<span class="t" style="left:171.68px;top:135px;font-size:22px;line-height:26px;font-weight:700;color:#8fa6c2;transform:scaleX(0.9363);-webkit-text-stroke:0.25px #8fa6c2">15</span>
<span class="t" style="left:174.55px;top:164px;font-size:11px;line-height:13px;font-weight:400;color:#a0b3c9;transform:scaleX(0.8329);-webkit-text-stroke:0.3px #a0b3c9">LEADS</span>
<span class="t" style="left:272.21px;top:135px;font-size:22px;line-height:26px;font-weight:700;color:#8fa6c2;transform:scaleX(0.8686);-webkit-text-stroke:0.25px #8fa6c2">175</span>
<span class="t" style="left:316.59px;top:146px;font-size:10px;line-height:12px;font-weight:400;color:#f5291f;transform:scaleX(1.0182);-webkit-text-stroke:0.4px #f5291f">29%</span>
<span class="t" style="left:286.79px;top:164px;font-size:11px;line-height:13px;font-weight:400;color:#a0b3c9;transform:scaleX(0.8187);-webkit-text-stroke:0.3px #a0b3c9">CONTACTS</span>
<span class="t" style="left:393.71px;top:135px;font-size:22px;line-height:26px;font-weight:700;color:#8fa6c2;transform:scaleX(0.8686);-webkit-text-stroke:0.25px #8fa6c2">175</span>
<span class="t" style="left:438.09px;top:146px;font-size:10px;line-height:12px;font-weight:400;color:#f5291f;transform:scaleX(1.0182);-webkit-text-stroke:0.4px #f5291f">29%</span>
<span class="t" style="left:407.75px;top:164px;font-size:11px;line-height:13px;font-weight:400;color:#a0b3c9;transform:scaleX(0.8163);-webkit-text-stroke:0.3px #a0b3c9">ACCOUNTS</span>
<span class="t" style="left:515.21px;top:135px;font-size:22px;line-height:26px;font-weight:700;color:#8fa6c2;transform:scaleX(0.8686);-webkit-text-stroke:0.25px #8fa6c2">175</span>
<span class="t" style="left:559.59px;top:146px;font-size:10px;line-height:12px;font-weight:400;color:#f5291f;transform:scaleX(1.0182);-webkit-text-stroke:0.4px #f5291f">29%</span>
<span class="t" style="left:515.82px;top:164px;font-size:11px;line-height:13px;font-weight:400;color:#a0b3c9;transform:scaleX(0.8563);-webkit-text-stroke:0.3px #a0b3c9">OPPORTUNITIES</span>
<span class="t" style="left:641.31px;top:135px;font-size:22px;line-height:26px;font-weight:700;color:#8fa6c2;transform:scaleX(0.9570);-webkit-text-stroke:0.25px #8fa6c2">25</span>
<span class="t" style="left:677.43px;top:146px;font-size:10px;line-height:12px;font-weight:400;color:#3fd585;transform:scaleX(0.9897);-webkit-text-stroke:0.4px #3fd585">39%</span>
<span class="t" style="left:661.17px;top:164px;font-size:11px;line-height:13px;font-weight:400;color:#a0b3c9;transform:scaleX(0.8333);-webkit-text-stroke:0.3px #a0b3c9">TASKS</span>
<span class="t" style="left:378.75px;top:434px;font-size:22px;line-height:26px;font-weight:700;color:#8fa6c2;transform:scaleX(0.9273);-webkit-text-stroke:0.25px #8fa6c2">26,678</span>
<span class="t" style="left:453.80px;top:445px;font-size:10px;line-height:12px;font-weight:400;color:#3fd585;transform:scaleX(1.0000);-webkit-text-stroke:0.4px #3fd585">36%</span>
<span class="t" style="left:417.14px;top:463px;font-size:11px;line-height:13px;font-weight:400;color:#a0b3c9;transform:scaleX(0.8163);-webkit-text-stroke:0.3px #a0b3c9">USERS</span>
<span class="t" style="left:166.19px;top:732px;font-size:22px;line-height:26px;font-weight:700;color:#8fa6c2;transform:scaleX(0.9295);-webkit-text-stroke:0.25px #8fa6c2">139</span>
<span class="t" style="left:171.45px;top:761px;font-size:11px;line-height:13px;font-weight:400;color:#a0b3c9;transform:scaleX(0.8000);-webkit-text-stroke:0.3px #a0b3c9">TWEETS</span>
<span class="t" style="left:286.72px;top:732px;font-size:22px;line-height:26px;font-weight:700;color:#8fa6c2;transform:scaleX(0.9813);-webkit-text-stroke:0.25px #8fa6c2">186</span>
<span class="t" style="left:283.01px;top:761px;font-size:11px;line-height:13px;font-weight:400;color:#a0b3c9;transform:scaleX(0.8558);-webkit-text-stroke:0.3px #a0b3c9">FOLLOWING</span>
<span class="t" style="left:413.77px;top:732px;font-size:22px;line-height:26px;font-weight:700;color:#8fa6c2;transform:scaleX(1.0391);-webkit-text-stroke:0.25px #8fa6c2">90</span>
<span class="t" style="left:404.13px;top:761px;font-size:11px;line-height:13px;font-weight:400;color:#a0b3c9;transform:scaleX(0.8235);-webkit-text-stroke:0.3px #a0b3c9">FOLLOWERS</span>
<span class="t" style="left:541.11px;top:732px;font-size:22px;line-height:26px;font-weight:700;color:#8fa6c2;transform:scaleX(1.1256);-webkit-text-stroke:0.25px #8fa6c2">0</span>
<span class="t" style="left:537.76px;top:761px;font-size:11px;line-height:13px;font-weight:400;color:#a0b3c9;transform:scaleX(0.8510);-webkit-text-stroke:0.3px #a0b3c9">LISTED</span>
<span class="t" style="left:651.66px;top:732px;font-size:22px;line-height:26px;font-weight:700;color:#8fa6c2;transform:scaleX(0.9514);-webkit-text-stroke:0.25px #8fa6c2">165</span>
<span class="t" style="left:650.12px;top:761px;font-size:11px;line-height:13px;font-weight:400;color:#a0b3c9;transform:scaleX(0.8368);-webkit-text-stroke:0.3px #a0b3c9">FAVORITES</span>
<span class="t" style="left:201.99px;top:860px;font-size:22px;line-height:26px;font-weight:700;color:#8fa6c2;transform:scaleX(1.0146);-webkit-text-stroke:0.25px #8fa6c2">7</span>
<span class="t" style="left:226.08px;top:871px;font-size:10px;line-height:12px;font-weight:400;color:#f5291f;transform:scaleX(0.9579);-webkit-text-stroke:0.4px #f5291f">13%</span>
<span class="t" style="left:195.05px;top:889px;font-size:11px;line-height:13px;font-weight:400;color:#a0b3c9;transform:scaleX(0.8534);-webkit-text-stroke:0.3px #a0b3c9">INTERACTIONS</span>
<span class="t" style="left:392.37px;top:860px;font-size:22px;line-height:26px;font-weight:700;color:#8fa6c2;transform:scaleX(0.9746);-webkit-text-stroke:0.25px #8fa6c2">835</span>
<span class="t" style="left:440.36px;top:871px;font-size:10px;line-height:12px;font-weight:400;color:#f5291f;transform:scaleX(0.9895);-webkit-text-stroke:0.4px #f5291f">19%</span>
<span class="t" style="left:399.69px;top:889px;font-size:11px;line-height:13px;font-weight:400;color:#a0b3c9;transform:scaleX(0.8587);-webkit-text-stroke:0.3px #a0b3c9">IMPRESSIONS</span>
<span class="t" style="left:603.40px;top:860px;font-size:22px;line-height:26px;font-weight:700;color:#8fa6c2;transform:scaleX(1.0047);-webkit-text-stroke:0.25px #8fa6c2">2</span>
<span class="t" style="left:627.83px;top:871px;font-size:10px;line-height:12px;font-weight:400;color:#3fd585;transform:scaleX(1.0303);-webkit-text-stroke:0.4px #3fd585">200%</span>
<span class="t" style="left:606.63px;top:889px;font-size:11px;line-height:13px;font-weight:400;color:#a0b3c9;transform:scaleX(0.8235);-webkit-text-stroke:0.3px #a0b3c9">FOLLOWERS</span>
<span class="t" style="left:809.81px;top:135px;font-size:22px;line-height:26px;font-weight:700;color:#8fa6c2;transform:scaleX(0.9612);-webkit-text-stroke:0.25px #8fa6c2">$3,060.69</span>
<span class="t" style="left:915.76px;top:146px;font-size:10px;line-height:12px;font-weight:400;color:#3fd585;transform:scaleX(0.9211);-webkit-text-stroke:0.4px #3fd585">17%</span>
<span class="t" style="left:865.98px;top:164px;font-size:11px;line-height:13px;font-weight:400;color:#a0b3c9;transform:scaleX(0.7983);-webkit-text-stroke:0.3px #a0b3c9">COST</span>
<span class="t" style="left:981.60px;top:135px;font-size:22px;line-height:26px;font-weight:700;color:#8fa6c2;transform:scaleX(0.9205);-webkit-text-stroke:0.25px #8fa6c2">155.4k</span>
<span class="t" style="left:1056.65px;top:146px;font-size:10px;line-height:12px;font-weight:400;color:#3fd585;transform:scaleX(0.9821);-webkit-text-stroke:0.4px #3fd585">3%</span>
<span class="t" style="left:999.94px;top:164px;font-size:11px;line-height:13px;font-weight:400;color:#a0b3c9;transform:scaleX(0.8573);-webkit-text-stroke:0.3px #a0b3c9">IMPRESSIONS</span>
<span class="t" style="left:1142.18px;top:135px;font-size:22px;line-height:26px;font-weight:700;color:#8fa6c2;transform:scaleX(0.8396);-webkit-text-stroke:0.25px #8fa6c2">1,717</span>
<span class="t" style="left:1200.89px;top:146px;font-size:10px;line-height:12px;font-weight:400;color:#f5291f;transform:scaleX(0.9359);-webkit-text-stroke:0.4px #f5291f">31%</span>
<span class="t" style="left:1171.27px;top:164px;font-size:11px;line-height:13px;font-weight:400;color:#a0b3c9;transform:scaleX(0.8194);-webkit-text-stroke:0.3px #a0b3c9">CLICKS</span>
<span class="t" style="left:1294.59px;top:135px;font-size:22px;line-height:26px;font-weight:700;color:#8fa6c2;transform:scaleX(0.9439);-webkit-text-stroke:0.25px #8fa6c2">6,492</span>
<span class="t" style="left:1358.48px;top:146px;font-size:10px;line-height:12px;font-weight:400;color:#3fd585;transform:scaleX(0.9589);-webkit-text-stroke:0.4px #3fd585">11%</span>
<span class="t" style="left:1321.75px;top:164px;font-size:11px;line-height:13px;font-weight:400;color:#a0b3c9;transform:scaleX(0.8454);-webkit-text-stroke:0.3px #a0b3c9">ACTIONS</span>
<span class="t" style="left:1072.29px;top:434px;font-size:22px;line-height:26px;font-weight:700;color:#8fa6c2;transform:scaleX(0.9401);-webkit-text-stroke:0.25px #8fa6c2">9,254</span>
<span class="t" style="left:1071.88px;top:463px;font-size:11px;line-height:13px;font-weight:400;color:#a0b3c9;transform:scaleX(0.8321);-webkit-text-stroke:0.3px #a0b3c9">SUBSCRIBERS</span>
<div class="c" style="height:345.80px"><span class="t" style="left:236.63px;top:334px;font-size:11px;line-height:13px;font-weight:700;color:#8ea3bb;transform:scaleX(0.9971);-webkit-text-stroke:0.3px #8ea3bb">May 11</span></div>
<div class="c" style="height:345.80px"><span class="t" style="left:377.35px;top:334px;font-size:11px;line-height:13px;font-weight:700;color:#8ea3bb;transform:scaleX(1.0210);-webkit-text-stroke:0.3px #8ea3bb">May 18</span></div>
<div class="c" style="height:345.80px"><span class="t" style="left:518.85px;top:334px;font-size:11px;line-height:13px;font-weight:700;color:#8ea3bb;transform:scaleX(1.0238);-webkit-text-stroke:0.3px #8ea3bb">May 25</span></div>
<div class="c" style="height:345.80px"><span class="t" style="left:666.64px;top:334px;font-size:11px;line-height:13px;font-weight:700;color:#8ea3bb;transform:scaleX(0.8920);-webkit-text-stroke:0.3px #8ea3bb">Jun 1</span></div>
<div class="c" style="height:644.30px"><span class="t" style="left:236.63px;top:633px;font-size:11px;line-height:13px;font-weight:700;color:#8ea3bb;transform:scaleX(0.9971);-webkit-text-stroke:0.3px #8ea3bb">May 11</span></div>
<div class="c" style="height:644.30px"><span class="t" style="left:377.35px;top:633px;font-size:11px;line-height:13px;font-weight:700;color:#8ea3bb;transform:scaleX(1.0210);-webkit-text-stroke:0.3px #8ea3bb">May 18</span></div>
<div class="c" style="height:644.30px"><span class="t" style="left:518.85px;top:633px;font-size:11px;line-height:13px;font-weight:700;color:#8ea3bb;transform:scaleX(1.0238);-webkit-text-stroke:0.3px #8ea3bb">May 25</span></div>
<div class="c" style="height:644.30px"><span class="t" style="left:666.64px;top:633px;font-size:11px;line-height:13px;font-weight:700;color:#8ea3bb;transform:scaleX(0.8920);-webkit-text-stroke:0.3px #8ea3bb">Jun 1</span></div>
<div class="c" style="height:348.30px"><span class="t" style="left:910.62px;top:337px;font-size:11px;line-height:13px;font-weight:700;color:#8ea3bb;transform:scaleX(0.9971);-webkit-text-stroke:0.3px #8ea3bb">May 11</span></div>
<div class="c" style="height:348.30px"><span class="t" style="left:1054.03px;top:337px;font-size:11px;line-height:13px;font-weight:700;color:#8ea3bb;transform:scaleX(1.0210);-webkit-text-stroke:0.3px #8ea3bb">May 18</span></div>
<div class="c" style="height:348.30px"><span class="t" style="left:1198.20px;top:337px;font-size:11px;line-height:13px;font-weight:700;color:#8ea3bb;transform:scaleX(1.0238);-webkit-text-stroke:0.3px #8ea3bb">May 25</span></div>
<div class="c" style="height:348.30px"><span class="t" style="left:1348.67px;top:337px;font-size:11px;line-height:13px;font-weight:700;color:#8ea3bb;transform:scaleX(0.8920);-webkit-text-stroke:0.3px #8ea3bb">Jun 1</span></div>
<div class="c" style="height:592.90px"><span class="t" style="left:908.35px;top:582px;font-size:11px;line-height:13px;font-weight:700;color:#8ea3bb;transform:scaleX(0.9971);-webkit-text-stroke:0.3px #8ea3bb">May 11</span></div>
<div class="c" style="height:592.90px"><span class="t" style="left:1049.10px;top:582px;font-size:11px;line-height:13px;font-weight:700;color:#8ea3bb;transform:scaleX(1.0210);-webkit-text-stroke:0.3px #8ea3bb">May 18</span></div>
<div class="c" style="height:592.90px"><span class="t" style="left:1190.61px;top:582px;font-size:11px;line-height:13px;font-weight:700;color:#8ea3bb;transform:scaleX(1.0238);-webkit-text-stroke:0.3px #8ea3bb">May 25</span></div>
<div class="c" style="height:592.90px"><span class="t" style="left:1338.43px;top:582px;font-size:11px;line-height:13px;font-weight:700;color:#8ea3bb;transform:scaleX(0.8920);-webkit-text-stroke:0.3px #8ea3bb">Jun 1</span></div>
<span class="t" style="left:790.09px;top:664px;font-size:13px;line-height:16px;font-weight:700;color:#c3cfdc;transform:scaleX(0.8479)">AFFINITY CATEGORY</span>
<span class="t" style="left:1121.67px;top:664px;font-size:13px;line-height:16px;font-weight:700;color:#c3cfdc;transform:scaleX(0.8672)">SESSIONS</span>
<div class="c" style="height:889.60px"><span class="t" style="left:788.46px;top:699px;font-size:15px;line-height:18px;font-weight:400;color:#a0b3c9;transform:scaleX(0.9366);-webkit-text-stroke:0.25px #a0b3c9">1.</span></div>
<div class="c" style="height:889.60px"><span class="t" style="left:820.89px;top:699px;font-size:15px;line-height:18px;font-weight:400;color:#a0b3c9;transform:scaleX(0.9493);-webkit-text-stroke:0.25px #a0b3c9">Shoppers/Value Shoppers</span></div>
<div class="c" style="height:889.60px"><span class="t" style="left:1139.92px;top:703px;font-size:14px;line-height:17px;font-weight:400;color:#a0b3c9;transform:scaleX(0.8776);-webkit-text-stroke:0.25px #a0b3c9">13,281</span></div>
<div class="c" style="height:889.60px"><span class="t" style="left:1196.17px;top:706px;font-size:11px;line-height:13px;font-weight:400;color:#3fd585;transform:scaleX(0.8612);-webkit-text-stroke:0.3px #3fd585">21%</span></div>
<div class="c" style="height:889.60px"><span class="t" style="left:788.71px;top:729px;font-size:15px;line-height:18px;font-weight:400;color:#a0b3c9;transform:scaleX(0.9143);-webkit-text-stroke:0.25px #a0b3c9">2.</span></div>
<div class="c" style="height:889.60px"><span class="t" style="left:820.40px;top:729px;font-size:15px;line-height:18px;font-weight:400;color:#a0b3c9;transform:scaleX(0.9593);-webkit-text-stroke:0.25px #a0b3c9">Media &amp; Entertainment/Movie Lovers</span></div>
<div class="c" style="height:889.60px"><span class="t" style="left:1139.49px;top:733px;font-size:14px;line-height:17px;font-weight:400;color:#a0b3c9;transform:scaleX(0.9093);-webkit-text-stroke:0.25px #a0b3c9">11,905</span></div>
<div class="c" style="height:889.60px"><span class="t" style="left:1195.95px;top:736px;font-size:11px;line-height:13px;font-weight:400;color:#3fd585;transform:scaleX(0.8714);-webkit-text-stroke:0.3px #3fd585">15%</span></div>
<div class="c" style="height:889.60px"><span class="t" style="left:788.95px;top:759px;font-size:15px;line-height:18px;font-weight:400;color:#a0b3c9;transform:scaleX(0.8930);-webkit-text-stroke:0.25px #a0b3c9">3.</span></div>
<div class="c" style="height:889.60px"><span class="t" style="left:821.36px;top:759px;font-size:15px;line-height:18px;font-weight:400;color:#a0b3c9;transform:scaleX(0.9685);-webkit-text-stroke:0.25px #a0b3c9">Technology/Technophiles</span></div>
<div class="c" style="height:889.60px"><span class="t" style="left:1141.13px;top:763px;font-size:14px;line-height:17px;font-weight:400;color:#a0b3c9;transform:scaleX(0.8696);-webkit-text-stroke:0.25px #a0b3c9">11,756</span></div>
<div class="c" style="height:889.60px"><span class="t" style="left:1195.93px;top:766px;font-size:11px;line-height:13px;font-weight:400;color:#3fd585;transform:scaleX(0.8952);-webkit-text-stroke:0.3px #3fd585">18%</span></div>
<div class="c" style="height:889.60px"><span class="t" style="left:789.18px;top:788px;font-size:15px;line-height:18px;font-weight:400;color:#a0b3c9;transform:scaleX(0.8727);-webkit-text-stroke:0.25px #a0b3c9">4.</span></div>
<div class="c" style="height:889.60px"><span class="t" style="left:820.42px;top:788px;font-size:15px;line-height:18px;font-weight:400;color:#a0b3c9;transform:scaleX(0.9463);-webkit-text-stroke:0.25px #a0b3c9">Lifestyles &amp; Hobbies/Business Professi...</span></div>
<div class="c" style="height:889.60px"><span class="t" style="left:1140.72px;top:793px;font-size:14px;line-height:17px;font-weight:400;color:#a0b3c9;transform:scaleX(0.8795);-webkit-text-stroke:0.25px #a0b3c9">11,610</span></div>
<div class="c" style="height:889.60px"><span class="t" style="left:1195.93px;top:796px;font-size:11px;line-height:13px;font-weight:400;color:#3fd585;transform:scaleX(0.8952);-webkit-text-stroke:0.3px #3fd585">18%</span></div>
<div class="c" style="height:889.60px"><span class="t" style="left:788.95px;top:818px;font-size:15px;line-height:18px;font-weight:400;color:#a0b3c9;transform:scaleX(0.8930);-webkit-text-stroke:0.25px #a0b3c9">5.</span></div>
<div class="c" style="height:889.60px"><span class="t" style="left:820.39px;top:818px;font-size:15px;line-height:18px;font-weight:400;color:#a0b3c9;transform:scaleX(0.9669);-webkit-text-stroke:0.25px #a0b3c9">Lifestyles &amp; Hobbies/Shutterbugs</span></div>
<div class="c" style="height:889.60px"><span class="t" style="left:1139.10px;top:822px;font-size:14px;line-height:17px;font-weight:400;color:#a0b3c9;transform:scaleX(0.8970);-webkit-text-stroke:0.25px #a0b3c9">10,841</span></div>
<div class="c" style="height:889.60px"><span class="t" style="left:1195.96px;top:825px;font-size:11px;line-height:13px;font-weight:400;color:#3fd585;transform:scaleX(0.8571);-webkit-text-stroke:0.3px #3fd585">17%</span></div>
<div class="c" style="height:889.60px"><span class="t" style="left:788.71px;top:848px;font-size:15px;line-height:18px;font-weight:400;color:#a0b3c9;transform:scaleX(0.9143);-webkit-text-stroke:0.25px #a0b3c9">6.</span></div>
<div class="c" style="height:889.60px"><span class="t" style="left:820.43px;top:848px;font-size:15px;line-height:18px;font-weight:400;color:#a0b3c9;transform:scaleX(0.9376);-webkit-text-stroke:0.25px #a0b3c9">Beauty &amp; Wellness/Frequently Visits Sal...</span></div>
<div class="c" style="height:889.60px"><span class="t" style="left:1144.23px;top:852px;font-size:14px;line-height:17px;font-weight:400;color:#a0b3c9;transform:scaleX(0.9500);-webkit-text-stroke:0.25px #a0b3c9">9,980</span></div>
<div class="c" style="height:889.60px"><span class="t" style="left:1196.14px;top:855px;font-size:11px;line-height:13px;font-weight:400;color:#3fd585;transform:scaleX(0.9129);-webkit-text-stroke:0.3px #3fd585">20%</span></div>
<div class="c" style="height:889.60px"><span class="t" style="left:788.71px;top:878px;font-size:15px;line-height:18px;font-weight:400;color:#a0b3c9;transform:scaleX(0.9143);-webkit-text-stroke:0.25px #a0b3c9">7.</span></div>
<div class="c" style="height:889.60px"><span class="t" style="left:821.36px;top:878px;font-size:15px;line-height:18px;font-weight:400;color:#a0b3c9;transform:scaleX(0.9535);-webkit-text-stroke:0.25px #a0b3c9">Travel/Travel Buffs</span></div>
<div class="c" style="height:889.60px"><span class="t" style="left:1144.23px;top:882px;font-size:14px;line-height:17px;font-weight:400;color:#a0b3c9;transform:scaleX(0.9500);-webkit-text-stroke:0.25px #a0b3c9">9,843</span></div>
<div class="c" style="height:889.60px"><span class="t" style="left:1195.95px;top:885px;font-size:11px;line-height:13px;font-weight:400;color:#3fd585;transform:scaleX(0.8714);-webkit-text-stroke:0.3px #3fd585">16%</span></div>
</body></html>
